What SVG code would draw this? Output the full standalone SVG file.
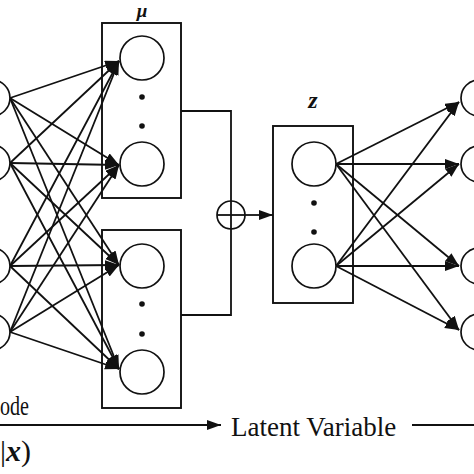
<svg xmlns="http://www.w3.org/2000/svg" width="474" height="474" viewBox="0 0 474 474">
<style>
.box{fill:none;stroke:#111;stroke-width:1.9}
.node{fill:#fff;stroke:#111;stroke-width:1.7}
.c{stroke:#111;stroke-width:1.8;fill:none}
.a{stroke:#111;stroke-width:1.8;fill:none;marker-end:url(#ah)}
.dot{fill:#111}
.t{font-family:"Liberation Serif","Times New Roman",serif;fill:#111}
.lbl{font-family:"Liberation Serif","Times New Roman",serif;font-style:italic;font-weight:bold;fill:#111}
</style>
<defs>
<marker id="ah" markerUnits="userSpaceOnUse" markerWidth="15" markerHeight="11" refX="14" refY="5" orient="auto">
<path d="M0,0 L14,5 L0,10 z" fill="#111"/>
</marker>
</defs>
<rect width="474" height="474" fill="#fff"/>
<g id="connectors">
<line class="a" x1="10" y1="98" x2="119" y2="61"/>
<line class="a" x1="10" y1="98" x2="119" y2="165"/>
<line class="a" x1="10" y1="98" x2="119" y2="265"/>
<line class="a" x1="10" y1="98" x2="119" y2="369"/>
<line class="a" x1="10" y1="163" x2="119" y2="61"/>
<line class="a" x1="10" y1="163" x2="119" y2="165"/>
<line class="a" x1="10" y1="163" x2="119" y2="265"/>
<line class="a" x1="10" y1="163" x2="119" y2="369"/>
<line class="a" x1="10" y1="266" x2="119" y2="61"/>
<line class="a" x1="10" y1="266" x2="119" y2="165"/>
<line class="a" x1="10" y1="266" x2="119" y2="265"/>
<line class="a" x1="10" y1="266" x2="119" y2="369"/>
<line class="a" x1="10" y1="332" x2="119" y2="61"/>
<line class="a" x1="10" y1="332" x2="119" y2="165"/>
<line class="a" x1="10" y1="332" x2="119" y2="265"/>
<line class="a" x1="10" y1="332" x2="119" y2="369"/>
<polyline class="c" points="181,111 231,111 231,201"/>
<polyline class="c" points="181,315 231,315 231,229"/>
<line class="a" x1="245" y1="215" x2="273" y2="215"/>
<line class="a" x1="336" y1="164" x2="459" y2="102"/>
<line class="a" x1="336" y1="164" x2="459" y2="164"/>
<line class="a" x1="336" y1="164" x2="459" y2="266"/>
<line class="a" x1="336" y1="164" x2="459" y2="330"/>
<line class="a" x1="336" y1="266" x2="459" y2="102"/>
<line class="a" x1="336" y1="266" x2="459" y2="164"/>
<line class="a" x1="336" y1="266" x2="459" y2="266"/>
<line class="a" x1="336" y1="266" x2="459" y2="330"/>
<line class="a" x1="0" y1="425" x2="221" y2="425"/>
<line class="c" x1="412" y1="425" x2="474" y2="425"/>
</g>
<g id="input-nodes">
<circle class="node" cx="-8" cy="98" r="18"/>
<circle class="node" cx="-8" cy="163" r="18"/>
<circle class="node" cx="-8" cy="266" r="18"/>
<circle class="node" cx="-8" cy="332" r="18"/>
</g>
<g id="mu">
<rect class="box" x="102" y="23" width="79" height="175"/>
<circle class="node" cx="142" cy="58" r="22"/>
<circle class="dot" cx="142" cy="97" r="2.8"/>
<circle class="dot" cx="142" cy="126" r="2.8"/>
<circle class="node" cx="142" cy="164" r="22"/>
<text class="lbl" x="142" y="17" font-size="19" text-anchor="middle">μ</text>
</g>
<g id="sigma">
<rect class="box" x="102" y="230" width="79" height="178"/>
<circle class="node" cx="142" cy="266" r="22"/>
<circle class="dot" cx="142" cy="304" r="2.8"/>
<circle class="dot" cx="142" cy="334" r="2.8"/>
<circle class="node" cx="142" cy="372" r="22"/>
</g>
<g id="oplus">
<circle class="node" cx="231" cy="215" r="14"/>
<line class="c" x1="217" y1="215" x2="245" y2="215"/>
<line class="c" x1="231" y1="201" x2="231" y2="229"/>
</g>
<g id="z">
<rect class="box" x="273" y="126" width="80" height="177"/>
<circle class="node" cx="314" cy="164" r="22"/>
<circle class="dot" cx="314" cy="203" r="2.8"/>
<circle class="dot" cx="314" cy="232" r="2.8"/>
<circle class="node" cx="314" cy="266" r="22"/>
<text class="lbl" x="313" y="108" font-size="24" text-anchor="middle">z</text>
</g>
<g id="output-nodes">
<circle class="node" cx="479" cy="98" r="18"/>
<circle class="node" cx="479" cy="164" r="18"/>
<circle class="node" cx="479" cy="266" r="18"/>
<circle class="node" cx="479" cy="332" r="18"/>
</g>
<g id="labels">
<text class="t" x="0" y="415" font-size="27" textLength="29" lengthAdjust="spacingAndGlyphs">ode</text>
<text class="t" x="231" y="436" font-size="27">Latent Variable</text>
<text class="t" x="0" y="461" font-size="30">|<tspan font-style="italic" font-weight="bold">x</tspan>)</text>
</g>
</svg>
